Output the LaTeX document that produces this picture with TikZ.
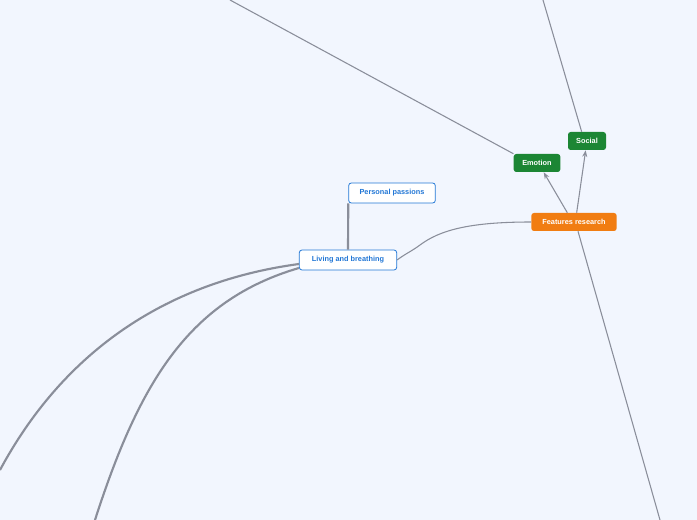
\documentclass[tikz,border=0pt]{standalone}
\usepackage{fontspec}
\setmainfont{Liberation Sans}
\usetikzlibrary{arrows.meta}
\definecolor{bg}{HTML}{F2F6FE}
\definecolor{gr}{HTML}{1C8634}
\definecolor{org}{HTML}{F17D12}
\definecolor{bl}{HTML}{2277D6}
\definecolor{ln}{HTML}{8A8E9A}
\begin{document}
\begin{tikzpicture}[x=0.75pt,y=-0.75pt,
  filled/.style={rounded corners=2pt,text=white,font=\bfseries\fontsize{5.5}{6}\selectfont,minimum height=13.5pt,inner xsep=4pt},
  outl/.style={rounded corners=2pt,draw=bl,fill=white,text=bl,font=\bfseries\fontsize{5.5}{6}\selectfont,minimum height=15pt,inner xsep=5pt,line width=0.6pt},
  conn/.style={draw=ln,line width=0.8pt},
  thick conn/.style={draw=ln,line width=1.6pt}]
\fill[bg] (0,0) rectangle (697,520);
\useasboundingbox (0,0) rectangle (697,520);
\node[filled,fill=gr,minimum width=28.5pt] (soc) at (587,141) {Social};
\node[filled,fill=gr,minimum width=35pt] (emo) at (537,163) {Emotion};
\node[filled,fill=org,minimum width=64pt] (fr) at (574,222) {Features research};
\node[outl,minimum width=65pt] (pp) at (392,193) {Personal passions};
\node[outl,minimum width=73pt] (lb) at (348,260) {Living and breathing};
\coordinate (t1) at (230,0);
\coordinate (t2) at (543,0);
\coordinate (b1) at (660,520);
\coordinate (l1) at (0,470);
\coordinate (l2) at (95,520);
\draw[conn] (t1) -- (emo.north west);
\draw[conn] (t2) -- ([xshift=-4pt]soc.north);
\draw[conn,-{Stealth[length=5pt]}] ([xshift=2pt]fr.north) -- ([xshift=-1pt]soc.south);
\draw[conn,-{Stealth[length=5pt]}] ([xshift=-5pt]fr.north) -- ([xshift=5pt]emo.south);
\draw[conn] (fr.west) .. controls (470,222) and (440,230) .. (420,245) .. controls (412,251) and (405,254) .. (lb.east);
\draw[conn] ([xshift=3pt]fr.south) -- (b1);
\draw[thick conn] (lb.north) -- (pp.south west);
\draw[thick conn] ([yshift=-3pt]lb.west) .. controls (180,280) and (70,340) .. (l1);
\draw[thick conn] ([yshift=-6pt]lb.west) .. controls (190,300) and (140,380) .. (l2);
\end{tikzpicture}
\end{document}
